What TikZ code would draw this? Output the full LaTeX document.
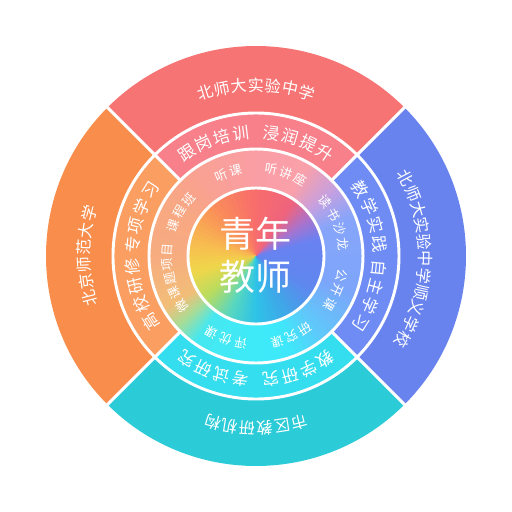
\documentclass[tikz,border=0pt]{standalone}
\usepackage{fontspec}
\usepackage{xcolor}
\usepackage{tikz}
\newfontfamily\cjk{Noto Sans CJK SC}

% outer ring
\definecolor{outerTop}{RGB}{247,116,116}
\definecolor{outerLeft}{RGB}{249,142,76}
\definecolor{outerRight}{RGB}{104,131,238}
\definecolor{outerBottom}{RGB}{43,203,216}
% middle ring
\definecolor{midTop}{RGB}{247,128,138}
\definecolor{midLeft}{RGB}{250,158,98}
\definecolor{midRight}{RGB}{110,140,244}
\definecolor{midBottom}{RGB}{52,222,238}
% inner ring blend
\definecolor{ra}{RGB}{62,234,248}
\definecolor{rb}{RGB}{62,232,250}
\definecolor{rc}{RGB}{95,200,250}
\definecolor{rd}{RGB}{125,165,250}
\definecolor{re}{RGB}{135,165,250}
\definecolor{rf}{RGB}{195,160,225}
\definecolor{rg}{RGB}{250,160,170}
\definecolor{rh}{RGB}{250,158,165}
\definecolor{ri}{RGB}{249,160,150}
\definecolor{rj}{RGB}{248,168,130}
\definecolor{rk}{RGB}{247,172,128}
\definecolor{rl}{RGB}{242,190,120}
\definecolor{rm}{RGB}{170,220,150}
\definecolor{rn}{RGB}{70,232,240}
% centre disc blend
\definecolor{da}{RGB}{45,195,232}
\definecolor{db}{RGB}{65,165,232}
\definecolor{dc}{RGB}{95,135,238}
\definecolor{dd}{RGB}{105,130,242}
\definecolor{de}{RGB}{170,115,205}
\definecolor{df}{RGB}{238,100,125}
\definecolor{dg}{RGB}{248,108,108}
\definecolor{dh}{RGB}{250,140,90}
\definecolor{di}{RGB}{248,185,80}
\definecolor{dj}{RGB}{240,215,75}
\definecolor{dk}{RGB}{185,220,95}
\definecolor{dl}{RGB}{90,215,190}

% characters set one by one along a circle, tops outward, read clockwise
% #1 style, #2 name, #3 radius, #4 mid angle, #5 step, #6 count, #7 characters
\newcommand{\arclabel}[7]{%
  \foreach \ch [count=\i] in {#7} {
    \pgfmathsetmacro{\chang}{#4+((#6+1)/2-\i)*(#5)}
    \node[#1, rotate=\chang-90] (#2-\i) at (\chang:#3) {\ch};
  }%
}
% annulus filled with a blend of colours running round it
% #1 inner radius, #2 outer radius, #3 list from/to/colour/colour
\newcommand{\blendring}[3]{%
  \foreach \a/\b/\ca/\cb in {#3} {
    \foreach \k in {0,...,7} {
      \pgfmathsetmacro{\angA}{(\a)+((\b)-(\a))*\k/8}
      \pgfmathsetmacro{\angB}{(\a)+((\b)-(\a))*(\k+1)/8+0.5}
      \pgfmathtruncatemacro{\pc}{100-12.5*(\k+0.5)}
      \fill[\ca!\pc!\cb] (\angA:#1) arc[start angle=\angA, end angle=\angB, radius=#1]
        -- (\angB:#2) arc[start angle=\angB, end angle=\angA, radius=#2] -- cycle;
    }
  }%
}

\begin{document}
\begin{tikzpicture}[x=0.75pt,y=0.75pt,
    outerchar/.style={text=white, inner sep=0pt, font=\cjk\fontsize{12pt}{12pt}\selectfont},
    midchar/.style={text=white, inner sep=0pt, font=\cjk\fontsize{12.5pt}{12.5pt}\selectfont},
    innerchar/.style={text=white, inner sep=0pt, font=\cjk\fontsize{9.5pt}{9.5pt}\selectfont},
    centretext/.style={text=white, inner sep=0pt, font=\cjk\fontsize{27pt}{27pt}\selectfont},
    ringline/.style={draw=white, line width=2.2pt},
    sepline/.style={draw=white, line width=2.2pt}]
  \useasboundingbox (-256,-256) rectangle (256,256);

  %Shape: outer sectors
  \fill[outerTop] (45:210) arc[start angle=45, end angle=135, radius=210] -- (0,0) -- cycle;
  \fill[outerLeft] (135:210) arc[start angle=135, end angle=225, radius=210] -- (0,0) -- cycle;
  \fill[outerBottom] (225:210) arc[start angle=225, end angle=315, radius=210] -- (0,0) -- cycle;
  \fill[outerRight] (-45:210) arc[start angle=-45, end angle=45, radius=210] -- (0,0) -- cycle;

  %Shape: middle sectors
  \fill[midTop] (45:143) arc[start angle=45, end angle=135, radius=143] -- (0,0) -- cycle;
  \fill[midLeft] (135:143) arc[start angle=135, end angle=225, radius=143] -- (0,0) -- cycle;
  \fill[midBottom] (225:143) arc[start angle=225, end angle=315, radius=143] -- (0,0) -- cycle;
  \fill[midRight] (-45:143) arc[start angle=-45, end angle=45, radius=143] -- (0,0) -- cycle;

  %Shape: inner ring
  \blendring{68}{107}{-90/-70/ra/rb, -70/-50/rb/rc, -50/-20/rc/rd, -20/22/rd/re,
    22/40/re/rf, 40/60/rf/rg, 60/90/rg/rh, 90/120/rh/ri, 120/150/ri/rj,
    150/180/rj/rk, 180/210/rk/rl, 210/222/rl/rm, 222/235/rm/rn, 235/270/rn/ra}

  %Shape: centre disc
  \blendring{0.1}{68}{-90/-60/da/db, -60/-30/db/dc, -30/15/dc/dd, 15/35/dd/de,
    35/55/de/df, 55/90/df/dg, 90/130/dg/dh, 130/165/dh/di, 165/195/di/dj,
    195/220/dj/dk, 220/245/dk/dl, 245/270/dl/da}

  %Straight Lines: separators
  \foreach \s in {45,135,225,315}
    \draw[sepline] (\s:107) -- (\s:213);

  %Shape: white circles
  \draw[ringline] (0,0) circle[radius=143];
  \draw[ringline] (0,0) circle[radius=107];
  \draw[ringline] (0,0) circle[radius=68];

  % Text Node: outer ring
  \arclabel{outerchar}{bsdsy}{171}{90}{5.8}{7}{北,师,大,实,验,中,学}
  \arclabel{outerchar}{bsdsysy}{169}{-1}{5.7}{11}{北,师,大,实,验,中,学,顺,义,学,校}
  \arclabel{outerchar}{sqjyjg}{172}{-90}{5.8}{6}{市,区,教,研,机,构}
  \arclabel{outerchar}{bjsfdx}{172}{180}{5.7}{6}{北,京,师,范,大,学}

  % Text Node: middle ring
  \arclabel{midchar}{gangpx}{124}{110.5}{8.9}{4}{跟,岗,培,训}
  \arclabel{midchar}{jinrts}{124}{69.5}{8.9}{4}{浸,润,提,升}
  \arclabel{midchar}{jxsj}{124}{19}{8.9}{4}{教,学,实,践}
  \arclabel{midchar}{zzxx}{124}{-19}{8.9}{4}{自,主,学,习}
  \arclabel{midchar}{jxyj}{124}{-69.5}{8.9}{4}{教,学,研,究}
  \arclabel{midchar}{ksyj}{124}{-110.5}{8.9}{4}{考,试,研,究}
  \arclabel{midchar}{gxyx}{124}{198.5}{8.9}{4}{高,校,研,修}
  \arclabel{midchar}{zxxx}{124}{161.5}{8.9}{4}{专,项,学,习}

  % Text Node: inner ring
  \arclabel{innerchar}{tk}{88}{108.5}{10}{2}{听,课}
  \arclabel{innerchar}{tjz}{88}{70}{10}{3}{听,讲,座}
  \arclabel{innerchar}{dssl}{88}{23}{10}{4}{读,书,沙,龙}
  \arclabel{innerchar}{gkk}{88}{-23}{10}{3}{公,开,课}
  \arclabel{innerchar}{yjk}{88}{-66}{10}{3}{研,究,课}
  \arclabel{innerchar}{pyk}{88}{-110}{10}{3}{评,优,课}
  \arclabel{innerchar}{wktxm}{89}{195}{9.6}{5}{微,课,题,项,目}
  \arclabel{innerchar}{kcb}{88}{150}{10}{3}{课,程,班}

  % Text Node: centre
  \node[centretext] (qingnian) at (0,22) {青年};
  \node[centretext] (jiaoshi) at (0,-21) {教师};
\end{tikzpicture}
\end{document}
